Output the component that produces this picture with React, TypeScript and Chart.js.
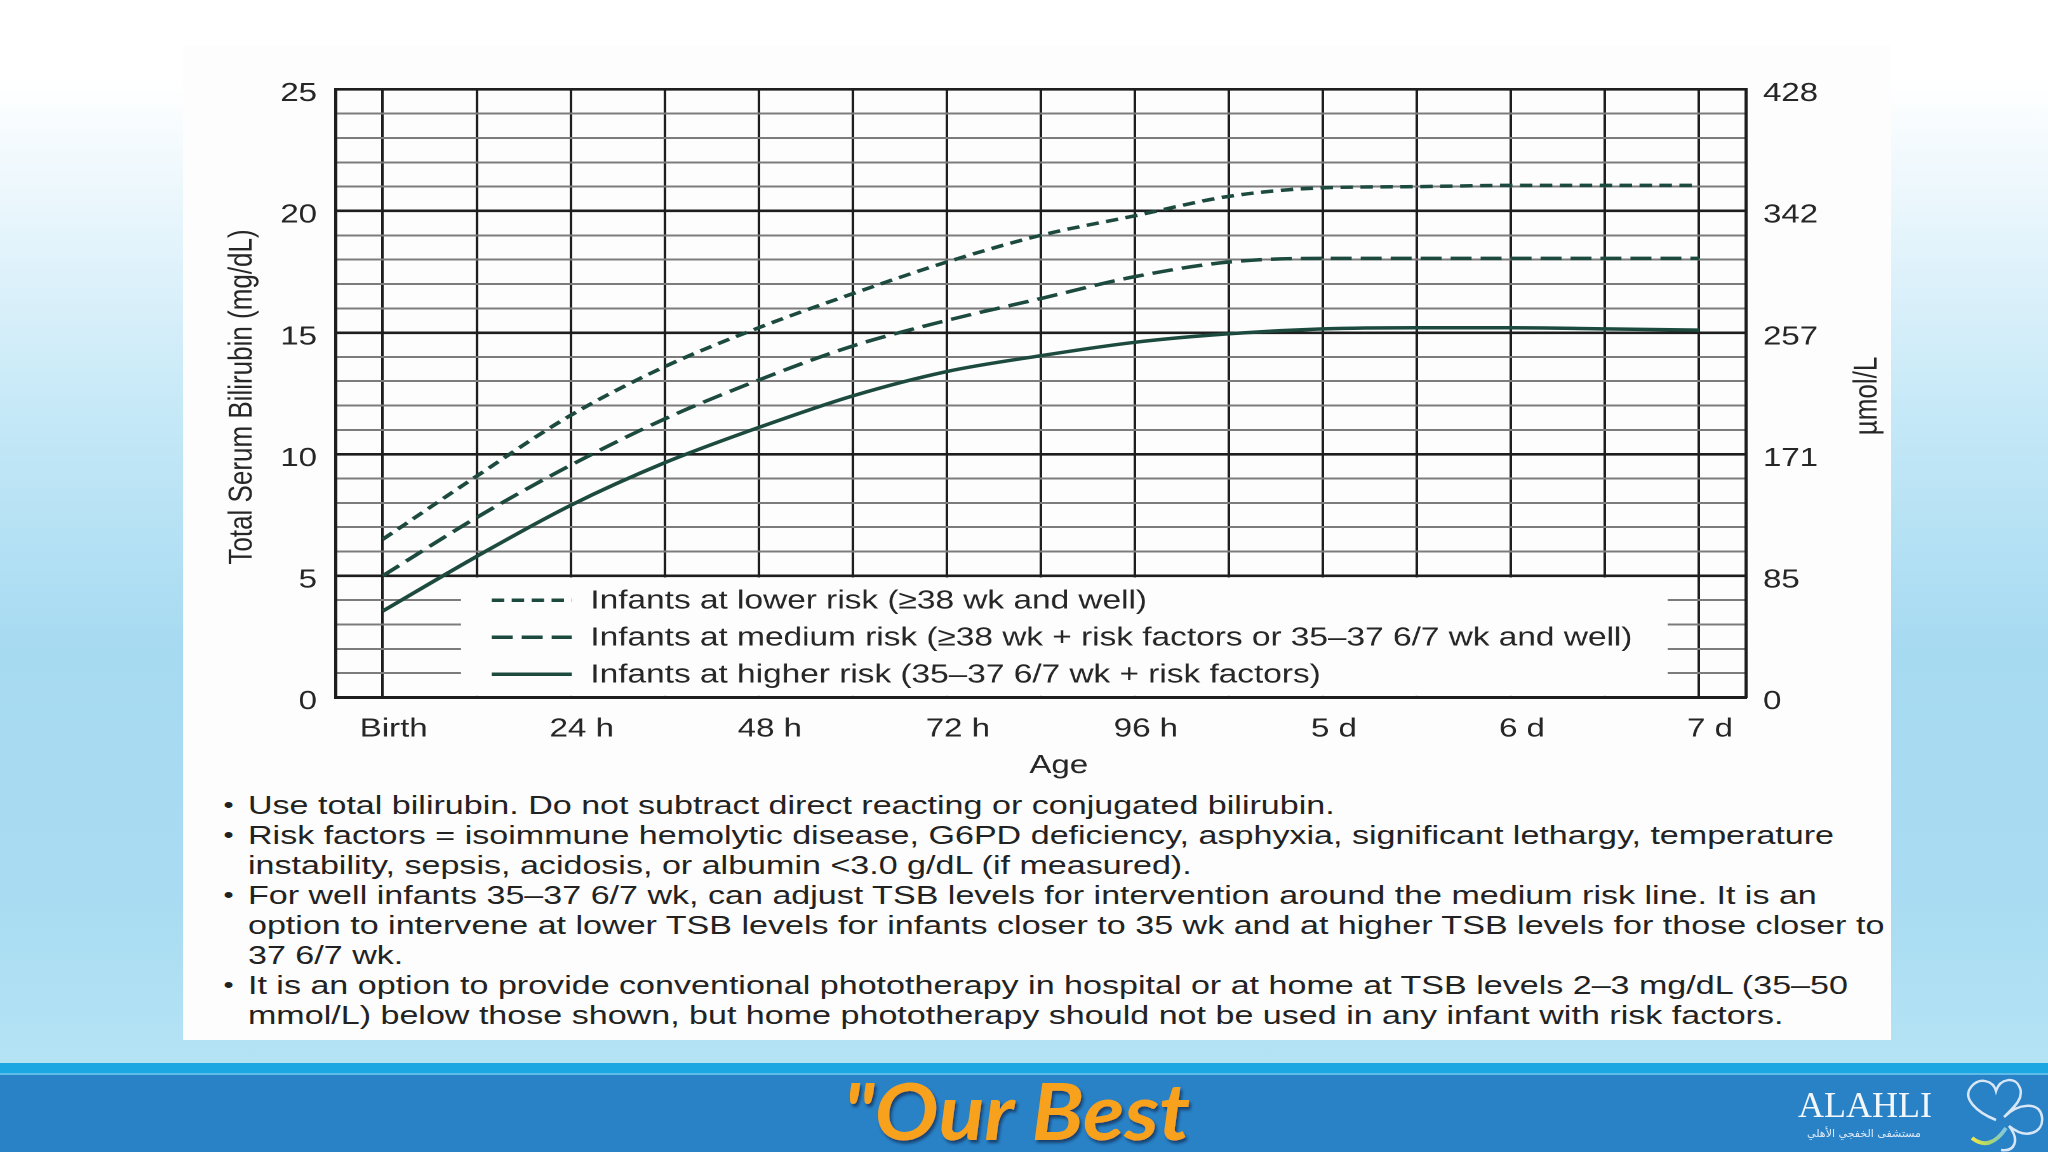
import React, { useEffect, useRef } from 'react';
import { Chart, registerables } from 'chart.js';

Chart.register(...registerables);

// ---------------- data ----------------
const hours = [0, 12, 24, 36, 48, 60, 72, 84, 96, 108, 120, 132, 144, 156, 168];
const lowerRisk = [6.5, 9.1, 11.6, 13.6, 15.2, 16.6, 17.9, 19.0, 19.8, 20.6, 20.95, 21.0, 21.05, 21.05, 21.05];
const mediumRisk = [5.0, 7.4, 9.55, 11.45, 13.05, 14.45, 15.5, 16.4, 17.3, 17.9, 18.05, 18.05, 18.05, 18.05, 18.05];
const higherRisk = [3.55, 5.8, 7.9, 9.65, 11.1, 12.4, 13.4, 14.05, 14.6, 14.95, 15.15, 15.2, 15.2, 15.15, 15.1];

const legendLabels = [
  'Infants at lower risk (\u226538 wk and well)',
  'Infants at medium risk (\u226538 wk + risk factors or 35\u201337 6/7 wk and well)',
  'Infants at higher risk (35\u201337 6/7 wk + risk factors)',
];

const gridHours = [0, 12, 24, 36, 48, 60, 72, 84, 96, 108, 120, 132, 144, 156, 168];
const xLabelHours = [0, 24, 48, 72, 96, 120, 144, 168];
const xLabelTexts = ['Birth', '24 h', '48 h', '72 h', '96 h', '5 d', '6 d', '7 d'];
const yMajorTicks = [0, 5, 10, 15, 20, 25];
const yLeftLabels = ['0', '5', '10', '15', '20', '25'];
const yRightLabels = ['0', '85', '171', '257', '342', '428'];

const leftTitle = 'Total Serum Bilirubin (mg/dL)';
const rightTitle = '\u00b5mol/L';
const xTitle = 'Age';

const bulletParagraphs = [
  ['Use total bilirubin. Do not subtract direct reacting or conjugated bilirubin.'],
  [
    'Risk factors = isoimmune hemolytic disease, G6PD deficiency, asphyxia, significant lethargy, temperature',
    'instability, sepsis, acidosis, or albumin <3.0 g/dL (if measured).',
  ],
  [
    'For well infants 35\u201337 6/7 wk, can adjust TSB levels for intervention around the medium risk line. It is an',
    'option to intervene at lower TSB levels for infants closer to 35 wk and at higher TSB levels for those closer to',
    '37 6/7 wk.',
  ],
  [
    'It is an option to provide conventional phototherapy in hospital or at home at TSB levels 2\u20133 mg/dL (35\u201350',
    'mmol/L) below those shown, but home phototherapy should not be used in any infant with risk factors.',
  ],
];

// ---------------- style / layout ----------------
const SX = 1.27; // horizontal stretch of the figure
const CW = 1345;
const CH = 790;
const PLOT_LEFT = 120.2;
const PLOT_RIGHT = 1230.7;
const PLOT_TOP = 89.3;
const PLOT_BOTTOM = 697.5;
const X_MIN = -6;
const X_MAX = 174;
const MASK_FROM_H = 10;
const MASK_TO_H = 164;
const PANEL_BG = '#fdfdfd';
const GRID_DARK = '#1e1e1e';
const GRID_MINOR = '#7c7c7c';
const LINE_COLOR = '#1d4a3e';
const TEXT = '#262626';
const FONT = '"Liberation Sans", Arial, Helvetica, sans-serif';
const dashes = [[9.8, 5.9], [16.5, 7.1], []];
const BULLET_SX = 1.31;

const overlayPlugin = {
  id: 'overlay',
  beforeDatasetsDraw(chart: any) {
    const { ctx, scales } = chart;
    const x = scales.x;
    const y = scales.y;
    const x1 = x.getPixelForValue(MASK_FROM_H);
    const x2 = x.getPixelForValue(MASK_TO_H);
    const y1 = y.getPixelForValue(5) + 1.6;
    const y2 = y.getPixelForValue(0) - 1.6;
    ctx.save();
    ctx.fillStyle = PANEL_BG;
    ctx.fillRect(x1, y1, x2 - x1, y2 - y1);
    ctx.restore();
  },
  afterDatasetsDraw(chart: any) {
    const { ctx, chartArea, scales } = chart;
    const y = scales.y;
    chart.data.datasets.forEach((ds: any, i: number) => {
      const rowY = y.getPixelForValue(4) + i * 37;
      ctx.save();
      ctx.strokeStyle = ds.borderColor;
      ctx.lineWidth = ds.borderWidth;
      ctx.setLineDash(ds.borderDash || []);
      ctx.beginPath();
      ctx.moveTo(chartArea.left + 122.9, rowY);
      ctx.lineTo(chartArea.left + 185.9, rowY);
      ctx.stroke();
      ctx.setLineDash([]);
      ctx.fillStyle = TEXT;
      ctx.font = '26.3px ' + FONT;
      ctx.textAlign = 'left';
      ctx.textBaseline = 'middle';
      ctx.fillText(ds.label, chartArea.left + 200.6, rowY + 1);
      ctx.restore();
    });
    ctx.save();
    ctx.fillStyle = TEXT;
    ctx.font = '26px ' + FONT;
    ctx.textAlign = 'center';
    ctx.textBaseline = 'middle';
    ctx.fillText(xTitle, 689.6, 766);
    ctx.save();
    ctx.translate(46.9, 397);
    ctx.rotate(-Math.PI / 2);
    ctx.fillText(leftTitle, 0, 0);
    ctx.restore();
    ctx.save();
    ctx.translate(1326.4, 396);
    ctx.rotate(-Math.PI / 2);
    ctx.fillText(rightTitle, 0, 0);
    ctx.restore();
    ctx.restore();
  },
};

export default function App() {
  const ref = useRef<HTMLCanvasElement>(null);

  useEffect(() => {
    document.documentElement.style.overflow = 'hidden';
    document.body.style.overflow = 'hidden';
    const canvas = ref.current;
    if (!canvas) return;
    const series = [lowerRisk, mediumRisk, higherRisk];
    const chart = new Chart(canvas, {
      type: 'line',
      data: {
        datasets: series.map((vals, i) => ({
          label: legendLabels[i],
          data: hours.map((h, j) => ({ x: h, y: vals[j] })),
          borderColor: LINE_COLOR,
          borderWidth: 3.5,
          borderDash: dashes[i],
          pointRadius: 0,
          fill: false,
          cubicInterpolationMode: 'monotone',
        })),
      },
      options: {
        responsive: false,
        devicePixelRatio: 2,
        animation: false,
        events: [],
        layout: { padding: { top: PLOT_TOP, left: 0, right: 0, bottom: 0 } },
        plugins: { legend: { display: false }, tooltip: { enabled: false }, title: { display: false } },
        scales: {
          x: {
            type: 'linear',
            min: X_MIN,
            max: X_MAX,
            afterBuildTicks: (s: any) => {
              s.ticks = gridHours.map((v) => ({ value: v }));
            },
            afterFit: (s: any) => {
              s.height = CH - PLOT_BOTTOM;
            },
            grid: { color: GRID_DARK, lineWidth: 2, drawTicks: false },
            border: { display: true, color: GRID_DARK, width: 2.5 },
            ticks: {
              autoSkip: false,
              maxRotation: 0,
              minRotation: 0,
              padding: 16,
              labelOffset: 8.7,
              color: TEXT,
              font: { family: FONT, size: 26 },
              callback: (v: any) => {
                const k = xLabelHours.indexOf(Number(v));
                return k >= 0 ? xLabelTexts[k] : '';
              },
            },
          },
          y: {
            position: 'left',
            min: 0,
            max: 25,
            afterFit: (s: any) => {
              s.width = PLOT_LEFT;
            },
            grid: {
              drawTicks: false,
              color: (c: any) => (c.tick && c.tick.value % 5 === 0 ? GRID_DARK : GRID_MINOR),
              lineWidth: (c: any) => (c.tick && c.tick.value % 5 === 0 ? 2.6 : 2),
            },
            border: { display: true, color: GRID_DARK, width: 2.5 },
            ticks: {
              stepSize: 1,
              autoSkip: false,
              padding: 14.7,
              labelOffset: 4.5,
              color: TEXT,
              font: { family: FONT, size: 26 },
              callback: (v: any) => {
                const k = yMajorTicks.indexOf(Number(v));
                return k >= 0 ? yLeftLabels[k] : '';
              },
            },
          },
          y2: {
            position: 'right',
            min: 0,
            max: 25,
            afterFit: (s: any) => {
              s.width = CW - PLOT_RIGHT;
            },
            grid: { display: false, drawTicks: false },
            border: { display: true, color: GRID_DARK, width: 2.5 },
            ticks: {
              stepSize: 5,
              autoSkip: false,
              padding: 13.4,
              labelOffset: 4.5,
              color: TEXT,
              font: { family: FONT, size: 26 },
              callback: (v: any) => {
                const k = yMajorTicks.indexOf(Number(v));
                return k >= 0 ? yRightLabels[k] : '';
              },
            },
          },
        },
      } as any,
      plugins: [overlayPlugin],
    } as any);
    return () => chart.destroy();
  }, []);

  return (
    <div
      style={{
        position: 'absolute',
        left: 0,
        top: 0,
        width: 2048,
        height: 1152,
        overflow: 'hidden',
        background:
          'linear-gradient(180deg, #ffffff 0px, #ffffff 80px, #e2f3fb 250px, #c4e8f7 420px, #a6daf1 650px, #a9dcf2 900px, #b4e3f4 1062px)',
      }}
    >
      <div
        style={{
          position: 'absolute',
          left: 183,
          top: 46,
          width: 1708,
          height: 994,
          background: PANEL_BG,
        }}
      />
      <canvas
        ref={ref}
        width={CW}
        height={CH}
        style={{
          position: 'absolute',
          left: 183,
          top: 0,
          width: CW,
          height: CH,
          transform: `scaleX(${SX})`,
          transformOrigin: '0 0',
        }}
      />
      <div
        style={{
          position: 'absolute',
          left: 183,
          top: 789.6,
          transform: `scaleX(${BULLET_SX})`,
          transformOrigin: '0 0',
          fontFamily: FONT,
          fontSize: 26,
          color: '#222',
        }}
      >
        {bulletParagraphs.map((lines, i) => (
          <div key={i} style={{ position: 'relative', paddingLeft: 49.6 }}>
            <span style={{ position: 'absolute', left: 31, top: 0, lineHeight: '30px', fontSize: 22 }}>{'\u2022'}</span>
            {lines.map((ln, j) => (
              <div key={j} style={{ whiteSpace: 'nowrap', height: 30, lineHeight: '30px' }}>
                {ln}
              </div>
            ))}
          </div>
        ))}
      </div>
      <div style={{ position: 'absolute', left: 0, top: 1063, width: 2048, height: 10, background: '#1ba7e1' }} />
      <div style={{ position: 'absolute', left: 0, top: 1073, width: 2048, height: 2, background: '#5fbbea' }} />
      <div style={{ position: 'absolute', left: 0, top: 1075, width: 2048, height: 77, background: '#2a82c6' }} />
      <svg
        width={2048}
        height={1152}
        style={{ position: 'absolute', left: 0, top: 0, pointerEvents: 'none' }}
      >
        <defs>
          <filter id="sh" x="-10%" y="-20%" width="130%" height="150%">
            <feDropShadow dx="2" dy="3" stdDeviation="1.5" floodColor="#0d2f55" floodOpacity="0.75" />
          </filter>
          <linearGradient id="sw" x1="0" y1="0" x2="1" y2="0">
            <stop offset="0" stopColor="#f2e64a" />
            <stop offset="0.5" stopColor="#a8d86a" />
            <stop offset="1" stopColor="#7fc6e8" />
          </linearGradient>
        </defs>
        <text
          x={843}
          y={1140}
          fontFamily="'Comic Sans MS', Lato, sans-serif"
          fontStyle="italic"
          fontWeight="bold"
          fontSize={78}
          fill="#f8a11b"
          filter="url(#sh)"
          textLength={347}
          lengthAdjust="spacingAndGlyphs"
        >
          "Our Best
        </text>
        <text
          x={1798}
          y={1117}
          fontFamily="'Liberation Serif', 'DejaVu Serif', serif"
          fontSize={36}
          fill="#f2f7fc"
          textLength={134}
          lengthAdjust="spacingAndGlyphs"
        >
          ALAHLI
        </text>
        <text
          x={1864}
          y={1137}
          textAnchor="middle"
          fontFamily="'DejaVu Sans', sans-serif"
          fontSize={11}
          fill="#dbe9f7"
        >
          مستشفى الخفجي الأهلي
        </text>
        <path
          d="M1996 1120 C1976 1112 1962 1098 1971 1087 C1979 1077 1993 1080 1996 1091 C2000 1078 2016 1076 2020 1088 C2024 1099 2013 1108 2004 1117 C2018 1103 2040 1101 2042 1117 C2044 1133 2026 1140 2009 1126 C2020 1140 2015 1152 2001 1150"
          fill="none"
          stroke="#d8e6f5"
          strokeWidth={2.5}
        />
        <path d="M1972 1138 Q1990 1152 2006 1128" fill="none" stroke="url(#sw)" strokeWidth={4} />
      </svg>
    </div>
  );
}
